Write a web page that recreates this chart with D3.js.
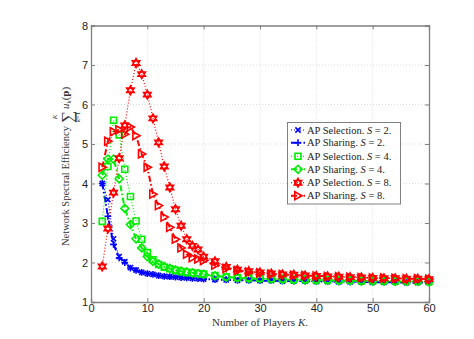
<!DOCTYPE html>
<html>
<head>
<meta charset="utf-8">
<script src="https://cdn.jsdelivr.net/npm/d3@7"></script>
<style>
  html, body { margin: 0; padding: 0; background: #fff; }
  svg { display: block; }
</style>
</head>
<body>
<svg id="chart" width="474" height="339"></svg>
<script>
// ---- data ----
const K = [2,3,4,5,6,7,8,9,10,11,12,13,14,15,16,17,18,19,20,22,24,26,28,30,32,34,36,38,40,42,44,46,48,50,52,54,56,58,60];

const selS2 = [4.00,3.59,2.60,2.15,2.02,1.87,1.81,1.75,1.72,1.70,1.67,1.65,1.64,1.63,1.62,1.61,1.60,1.59,1.58,1.57,1.56,1.55,1.55,1.54,1.54,1.53,1.53,1.53,1.52,1.52,1.51,1.51,1.51,1.50,1.50,1.50,1.49,1.49,1.49];
const shrS2 = [4.00,3.17,2.46,2.12,2.00,1.86,1.80,1.75,1.72,1.70,1.67,1.65,1.64,1.63,1.62,1.61,1.60,1.59,1.58,1.57,1.56,1.55,1.55,1.54,1.54,1.53,1.53,1.53,1.52,1.52,1.51,1.51,1.51,1.50,1.50,1.50,1.49,1.49,1.49];
const selS4 = [3.04,4.43,5.60,5.23,4.36,3.67,3.05,2.59,2.25,2.07,1.95,1.88,1.84,1.80,1.77,1.75,1.74,1.72,1.71,1.67,1.64,1.62,1.61,1.60,1.59,1.58,1.57,1.57,1.56,1.56,1.55,1.55,1.54,1.54,1.54,1.53,1.53,1.53,1.52];
const shrS4 = [4.21,4.62,4.62,4.12,3.37,2.96,2.60,2.37,2.15,2.03,1.96,1.90,1.85,1.81,1.78,1.76,1.74,1.72,1.70,1.66,1.63,1.61,1.60,1.59,1.58,1.57,1.56,1.56,1.55,1.55,1.54,1.54,1.53,1.53,1.53,1.52,1.52,1.52,1.51];
const selS8 = [1.90,2.86,3.77,4.64,5.47,6.36,7.05,6.77,6.25,5.65,5.04,4.43,3.90,3.35,2.93,2.59,2.42,2.33,2.15,2.03,1.89,1.82,1.78,1.75,1.72,1.70,1.69,1.67,1.66,1.65,1.64,1.63,1.62,1.61,1.60,1.60,1.59,1.59,1.58];
const shrS8 = [4.41,5.07,5.31,5.36,5.25,5.43,5.21,4.75,4.41,3.73,3.44,3.15,2.89,2.59,2.37,2.21,2.12,2.09,2.05,1.93,1.85,1.80,1.76,1.74,1.71,1.70,1.68,1.67,1.66,1.65,1.64,1.63,1.62,1.61,1.61,1.60,1.59,1.59,1.58];

const seriesNames = ["AP Selection. ", "AP Sharing. ", "AP Selection. ", "AP Sharing. ", "AP Selection. ", "AP Sharing. "];
const seriesS = ["2", "2", "4", "4", "8", "8"];
const xTicks = [0,10,20,30,40,50,60];
const yTicks = [1,2,3,4,5,6,7,8];

// ---- styling ----
const series = [
  {vals: selS2, color: "#0000ff", marker: "x",   dash: "1,2",           width: 1.2},
  {vals: shrS2, color: "#0000ff", marker: "+",   dash: "6,2.5,1.5,2.5", width: 2},
  {vals: selS4, color: "#00ee00", marker: "sq",  dash: "1,2",           width: 1.2},
  {vals: shrS4, color: "#00ee00", marker: "dia", dash: "6,2.5,1.5,2.5", width: 2},
  {vals: selS8, color: "#ff0000", marker: "hex", dash: "1,2",           width: 1.2},
  {vals: shrS8, color: "#ff0000", marker: "tri", dash: "6,2.5,1.5,2.5", width: 2}
];

const svg = d3.select("#chart");
const L = 91, R = 429, T = 25.5, B = 302;
const x = d3.scaleLinear().domain([0, 60]).range([L, R]);
const y = d3.scaleLinear().domain([1, 8]).range([B, T]);
const serif = "Liberation Serif, Times New Roman, serif";

// grid
const grid = svg.append("g");
grid.selectAll(".gx").data(xTicks.slice(1, -1)).enter().append("line")
  .attr("x1", d => x(d)).attr("x2", d => x(d)).attr("y1", T).attr("y2", B)
  .attr("stroke", "#d4d4d4").attr("stroke-width", 0.8).attr("stroke-dasharray", "1,2");
grid.selectAll(".gy").data(yTicks.slice(1, -1)).enter().append("line")
  .attr("x1", L).attr("x2", R).attr("y1", d => y(d)).attr("y2", d => y(d))
  .attr("stroke", "#d4d4d4").attr("stroke-width", 0.8).attr("stroke-dasharray", "1,2");

// axes
const axisColor = "#808080";
const xAxis = svg.append("g").attr("transform", `translate(0,${B})`)
  .call(d3.axisBottom(x).tickValues(xTicks).tickSize(-4).tickPadding(2).tickFormat(d3.format("d")));
const xAxisTop = svg.append("g").attr("transform", `translate(0,${T})`)
  .call(d3.axisTop(x).tickValues(xTicks).tickSize(-4).tickFormat(""));
const yAxis = svg.append("g").attr("transform", `translate(${L},0)`)
  .call(d3.axisLeft(y).tickValues(yTicks).tickSize(-4).tickPadding(3).tickFormat(d3.format("d")));
const yAxisR = svg.append("g").attr("transform", `translate(${R},0)`)
  .call(d3.axisRight(y).tickValues(yTicks).tickSize(-4).tickFormat(""));
[xAxis, xAxisTop, yAxis, yAxisR].forEach(g => {
  g.select(".domain").attr("stroke", axisColor).attr("stroke-width", 1.3);
  g.selectAll(".tick line").attr("stroke", axisColor).attr("stroke-width", 1);
  g.selectAll(".tick text").attr("fill", "#222").attr("font-family", "Liberation Sans, Arial, sans-serif").attr("font-size", 11);
});

// marker paths
function markerPath(type) {
  switch (type) {
    case "x": { const s = 2.6; return `M${-s},${-s}L${s},${s}M${-s},${s}L${s},${-s}`; }
    case "+": { const s = 3.4; return `M${-s},0L${s},0M0,${-s}L0,${s}`; }
    case "sq": { const s = 3; return `M${-s},${-s}L${s},${-s}L${s},${s}L${-s},${s}Z`; }
    case "dia": { const s = 4; return `M0,${-s}L${s},0L0,${s}L${-s},0Z`; }
    case "hex": {
      const r = 4.3; let p = "";
      for (let t = 0; t < 2; t++) {
        const pts = d3.range(3).map(i => {
          const a = (t === 0 ? -Math.PI / 2 : Math.PI / 2) + i * 2 * Math.PI / 3;
          return [r * Math.cos(a), r * Math.sin(a)];
        });
        p += "M" + pts.map(q => q[0].toFixed(2) + "," + q[1].toFixed(2)).join("L") + "Z";
      }
      return p;
    }
    case "tri": { const s = 4; return `M${-s * 0.8},${-s}L${s},0L${-s * 0.8},${s}Z`; }
  }
}

const line = d3.line().x(d => x(d[0])).y(d => y(d[1]));
const plot = svg.append("g");
series.forEach(s => {
  const pts = K.map((k, i) => [k, s.vals[i]]);
  plot.append("path").datum(pts).attr("d", line)
    .attr("fill", "none").attr("stroke", s.color).attr("stroke-width", s.width)
    .attr("stroke-dasharray", s.dash);
});
series.forEach(s => {
  const pts = K.map((k, i) => [k, s.vals[i]]);
  plot.selectAll(null).data(pts).enter().append("path")
    .attr("transform", d => `translate(${x(d[0])},${y(d[1])})`)
    .attr("d", markerPath(s.marker))
    .attr("fill", "none").attr("stroke", s.color).attr("stroke-width", 1.6);
});

// legend
const lg = svg.append("g");
lg.append("rect").attr("x", 287.5).attr("y", 122.5).attr("width", 113).attr("height", 81.5)
  .attr("fill", "#fff").attr("stroke", "#808080").attr("stroke-width", 1);
const rowY = [130, 142.7, 156.3, 169.3, 182.7, 195.7];
series.forEach((s, i) => {
  const ry = rowY[i];
  lg.append("line").attr("x1", 291).attr("x2", 305).attr("y1", ry).attr("y2", ry)
    .attr("stroke", s.color).attr("stroke-width", s.width).attr("stroke-dasharray", s.dash);
  lg.append("path").attr("transform", `translate(298,${ry})`).attr("d", markerPath(s.marker))
    .attr("fill", "none").attr("stroke", s.color).attr("stroke-width", 1.6);
  const t = lg.append("text").attr("x", 307).attr("y", ry + 3.6)
    .attr("font-family", serif).attr("font-size", 10.5).attr("fill", "#222");
  t.append("tspan").text(seriesNames[i]);
  t.append("tspan").attr("font-style", "italic").text("S");
  t.append("tspan").text(" = " + seriesS[i] + ".");
});

// x label
const xl = svg.append("text").attr("x", 260).attr("y", 326).attr("text-anchor", "middle")
  .attr("font-family", serif).attr("font-size", 11).attr("fill", "#333");
xl.append("tspan").text("Number of Players ");
xl.append("tspan").attr("font-style", "italic").text("K");
xl.append("tspan").text(".");

// y label (rotated), laid out left-to-right along the rotated baseline
const yl = svg.append("g").attr("transform", "translate(69,246) rotate(-90)")
  .attr("font-family", serif).attr("fill", "#333");
const main = yl.append("text").attr("x", 0).attr("y", 0).attr("font-size", 10.5).text("Network Spectral Efficiency");
let cx = main.node().getComputedTextLength() + 3;
const sig = yl.append("text").attr("x", cx).attr("y", 4).attr("font-size", 17).text("\u2211");
const sw = sig.node().getComputedTextLength();
const sc = cx + sw / 2;
yl.append("text").attr("x", sc).attr("y", -12).attr("font-size", 7).attr("font-style", "italic").attr("text-anchor", "middle").text("K");
const kk = yl.append("text").attr("x", sc).attr("y", 11).attr("font-size", 7).attr("text-anchor", "middle");
kk.append("tspan").attr("font-style", "italic").text("k");
kk.append("tspan").text("=1");
cx += sw + 2;
const uk = yl.append("text").attr("x", cx).attr("y", 0).attr("font-size", 11);
uk.append("tspan").attr("font-style", "italic").text("u");
uk.append("tspan").attr("font-style", "italic").attr("font-size", 7).attr("dy", 2).text("k");
uk.append("tspan").attr("dy", -2).text("(");
uk.append("tspan").attr("font-weight", "bold").text("p");
uk.append("tspan").text(")");
</script>
</body>
</html>
